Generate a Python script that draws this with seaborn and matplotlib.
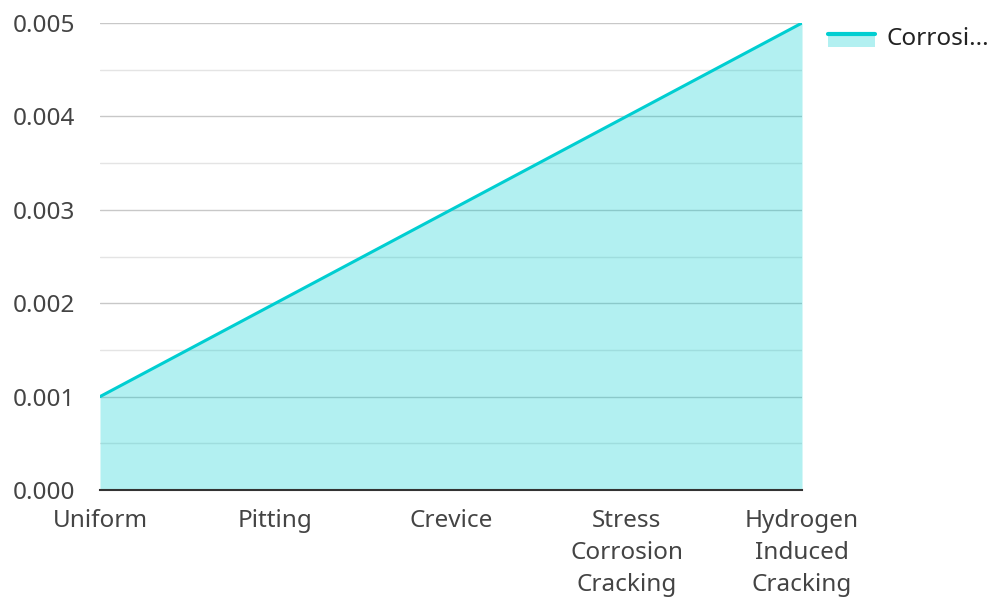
"""Area chart of corrosion rate by corrosion type."""

import matplotlib

matplotlib.use("Agg")

import matplotlib.pyplot as plt
import pandas as pd
import seaborn as sns
from matplotlib.legend_handler import HandlerBase
from matplotlib.lines import Line2D
from matplotlib.patches import Rectangle
from matplotlib.ticker import MultipleLocator

categories = [
    "Uniform",
    "Pitting",
    "Crevice",
    "Stress\nCorrosion\nCracking",
    "Hydrogen\nInduced\nCracking",
]
corrosion_rate = [0.001, 0.002, 0.003, 0.004, 0.005]
series_label = "Corrosi..."
y_ticks = [0.000, 0.001, 0.002, 0.003, 0.004, 0.005]

LINE_COLOR = "#00CED1"
TEXT_COLOR = "#444444"
FONT_SIZE = 17.5


class AreaHandler(HandlerBase):
    """Legend swatch: light fill with the line along its top edge."""

    def create_artists(self, legend, orig_handle, xdescent, ydescent, width, height, fontsize, trans):
        top = -ydescent + height * 0.62
        bottom = -ydescent - height * 0.1
        rect = Rectangle(
            (-xdescent, bottom), width, top - bottom,
            facecolor=LINE_COLOR, alpha=0.3, edgecolor="none", transform=trans,
        )
        line = Line2D(
            [-xdescent, -xdescent + width], [top, top],
            color=LINE_COLOR, linewidth=3, transform=trans,
        )
        return [rect, line]


sns.set_theme(style="white")
plt.rcParams["font.family"] = ["Noto Sans", "DejaVu Sans"]

frame = pd.DataFrame({"position": range(len(categories)), "rate": corrosion_rate})

fig = plt.figure(figsize=(9.92, 5.97), dpi=100)
ax = fig.add_axes([0.1008, 0.1792, 0.7077, 0.7823])

ax.fill_between(frame["position"], frame["rate"], 0, color=LINE_COLOR, alpha=0.3, linewidth=0, zorder=1)
sns.lineplot(data=frame, x="position", y="rate", color=LINE_COLOR, linewidth=2.2, ax=ax, zorder=3)

ax.set_xlim(0, len(categories) - 1)
ax.set_ylim(0, 0.005)
ax.set_xticks(frame["position"])
ax.set_xticklabels(categories, linespacing=1.45)
ax.set_yticks(y_ticks)
ax.set_yticklabels([f"{v:.3f}" for v in y_ticks])
ax.yaxis.set_minor_locator(MultipleLocator(0.0005))

ax.grid(axis="y", which="major", color="#c8c8c8", linewidth=1, zorder=0)
ax.grid(axis="y", which="minor", color="#e4e4e4", linewidth=1, zorder=0)
ax.set_axisbelow(True)

for side in ("left", "right", "top"):
    ax.spines[side].set_visible(False)
ax.spines["bottom"].set_color("#333333")
ax.spines["bottom"].set_linewidth(1.5)
ax.spines["bottom"].set_zorder(4)

ax.tick_params(axis="both", which="both", length=0, labelsize=FONT_SIZE, colors=TEXT_COLOR)
ax.tick_params(axis="y", pad=18)
ax.tick_params(axis="x", pad=13.5)
ax.set_xlabel("")
ax.set_ylabel("")

ax.legend(
    [object()], [series_label],
    handler_map={object: AreaHandler()},
    loc="upper left", bbox_to_anchor=(828 / 992, 1 - 27 / 597),
    bbox_transform=fig.transFigure, borderaxespad=0, borderpad=0,
    frameon=False, fontsize=FONT_SIZE, handlelength=1.95, handletextpad=0.45,
    labelcolor="#222222",
)

fig.savefig("out.png", dpi=100)
